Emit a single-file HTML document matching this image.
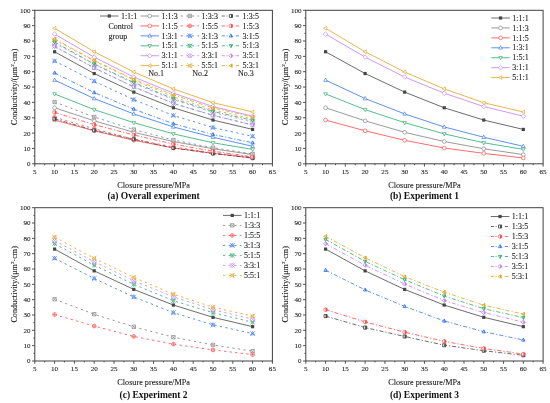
<!DOCTYPE html>
<html><head><meta charset="utf-8"><title>Conductivity vs closure pressure</title>
<style>
html,body{margin:0;padding:0;background:#fff}
svg{display:block;font-family:"Liberation Serif",serif}text{fill:#1c1c1c;stroke:#1c1c1c;stroke-width:.1px}
.tk{font-size:7.1px}.at{font-size:8.2px}.lg{font-size:8px}.cp{font-size:9.5px;font-weight:bold;fill:#111;stroke:none}
</style></head><body>
<svg width="550" height="403" viewBox="0 0 550 403">
<rect width="550" height="403" fill="#fff"/>
<polyline points="54.6,51.75 94.2,73.54 133.8,92.12 173.4,107.77 213,120.05 252.6,129.42" fill="none" stroke="#464646" stroke-width="0.8"/>
<rect x="53" y="50.15" width="3.2" height="3.2" fill="#464646"/>
<rect x="92.6" y="71.94" width="3.2" height="3.2" fill="#464646"/>
<rect x="132.2" y="90.52" width="3.2" height="3.2" fill="#464646"/>
<rect x="171.8" y="106.17" width="3.2" height="3.2" fill="#464646"/>
<rect x="211.4" y="118.45" width="3.2" height="3.2" fill="#464646"/>
<rect x="251" y="127.82" width="3.2" height="3.2" fill="#464646"/>
<polyline points="54.6,107.77 94.2,120.82 133.8,132.33 173.4,141.54 213,148.76 252.6,154.59" fill="none" stroke="#808080" stroke-width="0.8"/>
<circle cx="54.6" cy="107.77" r="1.87" fill="#fff" stroke="#808080" stroke-width="0.65"/>
<circle cx="94.2" cy="120.82" r="1.87" fill="#fff" stroke="#808080" stroke-width="0.65"/>
<circle cx="133.8" cy="132.33" r="1.87" fill="#fff" stroke="#808080" stroke-width="0.65"/>
<circle cx="173.4" cy="141.54" r="1.87" fill="#fff" stroke="#808080" stroke-width="0.65"/>
<circle cx="213" cy="148.76" r="1.87" fill="#fff" stroke="#808080" stroke-width="0.65"/>
<circle cx="252.6" cy="154.59" r="1.87" fill="#fff" stroke="#808080" stroke-width="0.65"/>
<polyline points="54.6,120.05 94.2,130.8 133.8,140.31 173.4,147.99 213,153.36 252.6,157.97" fill="none" stroke="#ff4545" stroke-width="0.8"/>
<circle cx="54.6" cy="120.05" r="1.87" fill="#fff" stroke="#ff4545" stroke-width="0.65"/>
<circle cx="94.2" cy="130.8" r="1.87" fill="#fff" stroke="#ff4545" stroke-width="0.65"/>
<circle cx="133.8" cy="140.31" r="1.87" fill="#fff" stroke="#ff4545" stroke-width="0.65"/>
<circle cx="173.4" cy="147.99" r="1.87" fill="#fff" stroke="#ff4545" stroke-width="0.65"/>
<circle cx="213" cy="153.36" r="1.87" fill="#fff" stroke="#ff4545" stroke-width="0.65"/>
<circle cx="252.6" cy="157.97" r="1.87" fill="#fff" stroke="#ff4545" stroke-width="0.65"/>
<polyline points="54.6,80.14 94.2,98.56 133.8,113.91 173.4,126.96 213,137.24 252.6,146.3" fill="none" stroke="#3575e6" stroke-width="0.8"/>
<polygon points="54.6,78.02 56.45,81.42 52.75,81.42" fill="#fff" stroke="#3575e6" stroke-width="0.65"/>
<polygon points="94.2,96.44 96.05,99.84 92.35,99.84" fill="#fff" stroke="#3575e6" stroke-width="0.65"/>
<polygon points="133.8,111.79 135.65,115.19 131.95,115.19" fill="#fff" stroke="#3575e6" stroke-width="0.65"/>
<polygon points="173.4,124.84 175.25,128.24 171.55,128.24" fill="#fff" stroke="#3575e6" stroke-width="0.65"/>
<polygon points="213,135.12 214.85,138.52 211.15,138.52" fill="#fff" stroke="#3575e6" stroke-width="0.65"/>
<polygon points="252.6,144.18 254.45,147.58 250.75,147.58" fill="#fff" stroke="#3575e6" stroke-width="0.65"/>
<polyline points="54.6,93.96 94.2,109.61 133.8,122.66 173.4,133.87 213,142.77 252.6,149.37" fill="none" stroke="#2cab6c" stroke-width="0.8"/>
<polygon points="54.6,96.08 56.45,92.68 52.75,92.68" fill="#fff" stroke="#2cab6c" stroke-width="0.65"/>
<polygon points="94.2,111.74 96.05,108.34 92.35,108.34" fill="#fff" stroke="#2cab6c" stroke-width="0.65"/>
<polygon points="133.8,124.79 135.65,121.39 131.95,121.39" fill="#fff" stroke="#2cab6c" stroke-width="0.65"/>
<polygon points="173.4,135.99 175.25,132.59 171.55,132.59" fill="#fff" stroke="#2cab6c" stroke-width="0.65"/>
<polygon points="213,144.9 214.85,141.5 211.15,141.5" fill="#fff" stroke="#2cab6c" stroke-width="0.65"/>
<polygon points="252.6,151.5 254.45,148.1 250.75,148.1" fill="#fff" stroke="#2cab6c" stroke-width="0.65"/>
<polyline points="54.6,34.09 94.2,57.12 133.8,77.07 173.4,93.19 213,106.54 252.6,116.22" fill="none" stroke="#c47ef2" stroke-width="0.8"/>
<polygon points="54.6,31.8 56.89,34.09 54.6,36.39 52.3,34.09" fill="#fff" stroke="#c47ef2" stroke-width="0.65"/>
<polygon points="94.2,54.82 96.49,57.12 94.2,59.41 91.9,57.12" fill="#fff" stroke="#c47ef2" stroke-width="0.65"/>
<polygon points="133.8,74.78 136.09,77.07 133.8,79.37 131.5,77.07" fill="#fff" stroke="#c47ef2" stroke-width="0.65"/>
<polygon points="173.4,90.9 175.69,93.19 173.4,95.49 171.1,93.19" fill="#fff" stroke="#c47ef2" stroke-width="0.65"/>
<polygon points="213,104.25 215.29,106.54 213,108.84 210.71,106.54" fill="#fff" stroke="#c47ef2" stroke-width="0.65"/>
<polygon points="252.6,113.92 254.89,116.22 252.6,118.51 250.3,116.22" fill="#fff" stroke="#c47ef2" stroke-width="0.65"/>
<polyline points="54.6,28.26 94.2,51.75 133.8,72.01 173.4,88.89 213,102.71 252.6,111.92" fill="none" stroke="#dfa322" stroke-width="0.8"/>
<polygon points="52.47,28.26 55.87,26.41 55.87,30.11" fill="#fff" stroke="#dfa322" stroke-width="0.65"/>
<polygon points="92.07,51.75 95.47,49.9 95.47,53.59" fill="#fff" stroke="#dfa322" stroke-width="0.65"/>
<polygon points="131.67,72.01 135.07,70.16 135.07,73.86" fill="#fff" stroke="#dfa322" stroke-width="0.65"/>
<polygon points="171.27,88.89 174.67,87.04 174.67,90.74" fill="#fff" stroke="#dfa322" stroke-width="0.65"/>
<polygon points="210.88,102.71 214.28,100.86 214.28,104.56" fill="#fff" stroke="#dfa322" stroke-width="0.65"/>
<polygon points="250.47,111.92 253.87,110.07 253.87,113.77" fill="#fff" stroke="#dfa322" stroke-width="0.65"/>
<polyline points="54.6,101.94 94.2,116.98 133.8,129.57 173.4,140.01 213,147.68 252.6,153.98" fill="none" stroke="#808080" stroke-width="0.8" stroke-dasharray="2.3 3.3"/>
<polygon points="52.9,100.24 56.3,100.24 56.3,103.64 52.9,103.64" fill="#fff" stroke="#808080" stroke-width="0.65"/><path d="M52.9 100.24L56.3 103.64M52.9 103.64L56.3 100.24" stroke="#808080" stroke-width="0.6" fill="none"/>
<polygon points="92.5,115.28 95.9,115.28 95.9,118.68 92.5,118.68" fill="#fff" stroke="#808080" stroke-width="0.65"/><path d="M92.5 115.28L95.9 118.68M92.5 118.68L95.9 115.28" stroke="#808080" stroke-width="0.6" fill="none"/>
<polygon points="132.1,127.87 135.5,127.87 135.5,131.27 132.1,131.27" fill="#fff" stroke="#808080" stroke-width="0.65"/><path d="M132.1 127.87L135.5 131.27M132.1 131.27L135.5 127.87" stroke="#808080" stroke-width="0.6" fill="none"/>
<polygon points="171.7,138.31 175.1,138.31 175.1,141.71 171.7,141.71" fill="#fff" stroke="#808080" stroke-width="0.65"/><path d="M171.7 138.31L175.1 141.71M171.7 141.71L175.1 138.31" stroke="#808080" stroke-width="0.6" fill="none"/>
<polygon points="211.3,145.98 214.7,145.98 214.7,149.38 211.3,149.38" fill="#fff" stroke="#808080" stroke-width="0.65"/><path d="M211.3 145.98L214.7 149.38M211.3 149.38L214.7 145.98" stroke="#808080" stroke-width="0.6" fill="none"/>
<polygon points="250.9,152.28 254.3,152.28 254.3,155.68 250.9,155.68" fill="#fff" stroke="#808080" stroke-width="0.65"/><path d="M250.9 152.28L254.3 155.68M250.9 155.68L254.3 152.28" stroke="#808080" stroke-width="0.6" fill="none"/>
<polyline points="54.6,117.29 94.2,128.8 133.8,139.24 173.4,146.92 213,152.75 252.6,157.35" fill="none" stroke="#ff4545" stroke-width="0.8" stroke-dasharray="2.3 3.3"/>
<circle cx="54.6" cy="117.29" r="1.87" fill="#fff" stroke="#ff4545" stroke-width="0.65"/><path d="M52.73 117.29H56.47M54.6 115.42V119.16" stroke="#ff4545" stroke-width="0.6" fill="none"/>
<circle cx="94.2" cy="128.8" r="1.87" fill="#fff" stroke="#ff4545" stroke-width="0.65"/><path d="M92.33 128.8H96.07M94.2 126.93V130.67" stroke="#ff4545" stroke-width="0.6" fill="none"/>
<circle cx="133.8" cy="139.24" r="1.87" fill="#fff" stroke="#ff4545" stroke-width="0.65"/><path d="M131.93 139.24H135.67M133.8 137.37V141.11" stroke="#ff4545" stroke-width="0.6" fill="none"/>
<circle cx="173.4" cy="146.92" r="1.87" fill="#fff" stroke="#ff4545" stroke-width="0.65"/><path d="M171.53 146.92H175.27M173.4 145.05V148.79" stroke="#ff4545" stroke-width="0.6" fill="none"/>
<circle cx="213" cy="152.75" r="1.87" fill="#fff" stroke="#ff4545" stroke-width="0.65"/><path d="M211.13 152.75H214.87M213 150.88V154.62" stroke="#ff4545" stroke-width="0.6" fill="none"/>
<circle cx="252.6" cy="157.35" r="1.87" fill="#fff" stroke="#ff4545" stroke-width="0.65"/><path d="M250.73 157.35H254.47M252.6 155.48V159.22" stroke="#ff4545" stroke-width="0.6" fill="none"/>
<polyline points="54.6,60.96 94.2,81.22 133.8,99.64 173.4,115.45 213,127.57 252.6,136.32" fill="none" stroke="#3575e6" stroke-width="0.8" stroke-dasharray="2.3 3.3"/>
<polygon points="54.6,58.83 56.45,62.23 52.75,62.23" fill="#fff" stroke="#3575e6" stroke-width="0.65"/><path d="M52.25 58.61L56.95 63.3M52.25 63.3L56.95 58.61" stroke="#3575e6" stroke-width="0.6" fill="none"/>
<polygon points="94.2,79.09 96.05,82.49 92.35,82.49" fill="#fff" stroke="#3575e6" stroke-width="0.65"/><path d="M91.85 78.87L96.55 83.56M91.85 83.56L96.55 78.87" stroke="#3575e6" stroke-width="0.6" fill="none"/>
<polygon points="133.8,97.51 135.65,100.91 131.95,100.91" fill="#fff" stroke="#3575e6" stroke-width="0.65"/><path d="M131.45 97.29L136.15 101.98M131.45 101.98L136.15 97.29" stroke="#3575e6" stroke-width="0.6" fill="none"/>
<polygon points="173.4,113.32 175.25,116.72 171.55,116.72" fill="#fff" stroke="#3575e6" stroke-width="0.65"/><path d="M171.05 113.1L175.75 117.79M171.05 117.79L175.75 113.1" stroke="#3575e6" stroke-width="0.6" fill="none"/>
<polygon points="213,125.45 214.85,128.85 211.15,128.85" fill="#fff" stroke="#3575e6" stroke-width="0.65"/><path d="M210.65 125.23L215.35 129.92M210.65 129.92L215.35 125.23" stroke="#3575e6" stroke-width="0.6" fill="none"/>
<polygon points="252.6,134.2 254.45,137.6 250.75,137.6" fill="#fff" stroke="#3575e6" stroke-width="0.65"/><path d="M250.25 133.98L254.95 138.67M250.25 138.67L254.95 133.98" stroke="#3575e6" stroke-width="0.6" fill="none"/>
<polyline points="54.6,46.37 94.2,67.86 133.8,87.05 173.4,103.47 213,115.45 252.6,124.96" fill="none" stroke="#2cab6c" stroke-width="0.8" stroke-dasharray="2.3 3.3"/>
<polygon points="54.6,48.5 56.45,45.1 52.75,45.1" fill="#fff" stroke="#2cab6c" stroke-width="0.65"/><path d="M52.25 44.03L56.95 48.72M52.25 48.72L56.95 44.03" stroke="#2cab6c" stroke-width="0.6" fill="none"/>
<polygon points="94.2,69.99 96.05,66.59 92.35,66.59" fill="#fff" stroke="#2cab6c" stroke-width="0.65"/><path d="M91.85 65.52L96.55 70.21M91.85 70.21L96.55 65.52" stroke="#2cab6c" stroke-width="0.6" fill="none"/>
<polygon points="133.8,89.18 135.65,85.78 131.95,85.78" fill="#fff" stroke="#2cab6c" stroke-width="0.65"/><path d="M131.45 84.7L136.15 89.4M131.45 89.4L136.15 84.7" stroke="#2cab6c" stroke-width="0.6" fill="none"/>
<polygon points="173.4,105.6 175.25,102.2 171.55,102.2" fill="#fff" stroke="#2cab6c" stroke-width="0.65"/><path d="M171.05 101.13L175.75 105.82M171.05 105.82L175.75 101.13" stroke="#2cab6c" stroke-width="0.6" fill="none"/>
<polygon points="213,117.57 214.85,114.17 211.15,114.17" fill="#fff" stroke="#2cab6c" stroke-width="0.65"/><path d="M210.65 113.1L215.35 117.79M210.65 117.79L215.35 113.1" stroke="#2cab6c" stroke-width="0.6" fill="none"/>
<polygon points="252.6,127.09 254.45,123.69 250.75,123.69" fill="#fff" stroke="#2cab6c" stroke-width="0.65"/><path d="M250.25 122.62L254.95 127.31M250.25 127.31L254.95 122.62" stroke="#2cab6c" stroke-width="0.6" fill="none"/>
<polyline points="54.6,43.3 94.2,64.33 133.8,83.52 173.4,99.64 213,112.38 252.6,121.89" fill="none" stroke="#c47ef2" stroke-width="0.8" stroke-dasharray="2.3 3.3"/>
<polygon points="54.6,41.01 56.89,43.3 54.6,45.6 52.3,43.3" fill="#fff" stroke="#c47ef2" stroke-width="0.65"/><path d="M52.25 40.96L56.95 45.65M52.25 45.65L56.95 40.96" stroke="#c47ef2" stroke-width="0.6" fill="none"/>
<polygon points="94.2,62.04 96.49,64.33 94.2,66.63 91.9,64.33" fill="#fff" stroke="#c47ef2" stroke-width="0.65"/><path d="M91.85 61.99L96.55 66.68M91.85 66.68L96.55 61.99" stroke="#c47ef2" stroke-width="0.6" fill="none"/>
<polygon points="133.8,81.22 136.09,83.52 133.8,85.81 131.5,83.52" fill="#fff" stroke="#c47ef2" stroke-width="0.65"/><path d="M131.45 81.17L136.15 85.87M131.45 85.87L136.15 81.17" stroke="#c47ef2" stroke-width="0.6" fill="none"/>
<polygon points="173.4,97.34 175.69,99.64 173.4,101.93 171.1,99.64" fill="#fff" stroke="#c47ef2" stroke-width="0.65"/><path d="M171.05 97.29L175.75 101.98M171.05 101.98L175.75 97.29" stroke="#c47ef2" stroke-width="0.6" fill="none"/>
<polygon points="213,110.08 215.29,112.38 213,114.67 210.71,112.38" fill="#fff" stroke="#c47ef2" stroke-width="0.65"/><path d="M210.65 110.03L215.35 114.72M210.65 114.72L215.35 110.03" stroke="#c47ef2" stroke-width="0.6" fill="none"/>
<polygon points="252.6,119.6 254.89,121.89 252.6,124.19 250.3,121.89" fill="#fff" stroke="#c47ef2" stroke-width="0.65"/><path d="M250.25 119.55L254.95 124.24M250.25 124.24L254.95 119.55" stroke="#c47ef2" stroke-width="0.6" fill="none"/>
<polyline points="54.6,39.77 94.2,60.96 133.8,80.14 173.4,96.87 213,109.92 252.6,118.82" fill="none" stroke="#dfa322" stroke-width="0.8" stroke-dasharray="2.3 3.3"/>
<polygon points="52.47,39.77 55.87,37.92 55.87,41.62" fill="#fff" stroke="#dfa322" stroke-width="0.65"/><path d="M52.25 37.43L56.95 42.12M52.25 42.12L56.95 37.43" stroke="#dfa322" stroke-width="0.6" fill="none"/>
<polygon points="92.07,60.96 95.47,59.11 95.47,62.8" fill="#fff" stroke="#dfa322" stroke-width="0.65"/><path d="M91.85 58.61L96.55 63.3M91.85 63.3L96.55 58.61" stroke="#dfa322" stroke-width="0.6" fill="none"/>
<polygon points="131.67,80.14 135.07,78.29 135.07,81.99" fill="#fff" stroke="#dfa322" stroke-width="0.65"/><path d="M131.45 77.8L136.15 82.49M131.45 82.49L136.15 77.8" stroke="#dfa322" stroke-width="0.6" fill="none"/>
<polygon points="171.27,96.87 174.67,95.03 174.67,98.72" fill="#fff" stroke="#dfa322" stroke-width="0.65"/><path d="M171.05 94.53L175.75 99.22M171.05 99.22L175.75 94.53" stroke="#dfa322" stroke-width="0.6" fill="none"/>
<polygon points="210.88,109.92 214.28,108.07 214.28,111.77" fill="#fff" stroke="#dfa322" stroke-width="0.65"/><path d="M210.65 107.58L215.35 112.27M210.65 112.27L215.35 107.58" stroke="#dfa322" stroke-width="0.6" fill="none"/>
<polygon points="250.47,118.82 253.87,116.98 253.87,120.67" fill="#fff" stroke="#dfa322" stroke-width="0.65"/><path d="M250.25 116.48L254.95 121.17M250.25 121.17L254.95 116.48" stroke="#dfa322" stroke-width="0.6" fill="none"/>
<polyline points="54.6,118.82 94.2,130.34 133.8,139.24 173.4,147.99 213,153.52 252.6,158.12" fill="none" stroke="#464646" stroke-width="0.8" stroke-dasharray="4.1 2 1.2 2"/>
<polygon points="53.05,117.27 56.15,117.27 56.15,120.37 53.05,120.37" fill="#fff" stroke="#464646" stroke-width="0.85"/><clipPath id="c92"><rect x="54.6" y="114.82" width="4" height="8"/></clipPath><polygon points="53.05,117.27 56.15,117.27 56.15,120.37 53.05,120.37" fill="#464646" clip-path="url(#c92)"/>
<polygon points="92.65,128.79 95.75,128.79 95.75,131.89 92.65,131.89" fill="#fff" stroke="#464646" stroke-width="0.85"/><clipPath id="c93"><rect x="94.2" y="126.34" width="4" height="8"/></clipPath><polygon points="92.65,128.79 95.75,128.79 95.75,131.89 92.65,131.89" fill="#464646" clip-path="url(#c93)"/>
<polygon points="132.25,137.69 135.35,137.69 135.35,140.79 132.25,140.79" fill="#fff" stroke="#464646" stroke-width="0.85"/><clipPath id="c94"><rect x="133.8" y="135.24" width="4" height="8"/></clipPath><polygon points="132.25,137.69 135.35,137.69 135.35,140.79 132.25,140.79" fill="#464646" clip-path="url(#c94)"/>
<polygon points="171.85,146.44 174.95,146.44 174.95,149.54 171.85,149.54" fill="#fff" stroke="#464646" stroke-width="0.85"/><clipPath id="c95"><rect x="173.4" y="143.99" width="4" height="8"/></clipPath><polygon points="171.85,146.44 174.95,146.44 174.95,149.54 171.85,149.54" fill="#464646" clip-path="url(#c95)"/>
<polygon points="211.45,151.97 214.55,151.97 214.55,155.07 211.45,155.07" fill="#fff" stroke="#464646" stroke-width="0.85"/><clipPath id="c96"><rect x="213" y="149.52" width="4" height="8"/></clipPath><polygon points="211.45,151.97 214.55,151.97 214.55,155.07 211.45,155.07" fill="#464646" clip-path="url(#c96)"/>
<polygon points="251.05,156.57 254.15,156.57 254.15,159.67 251.05,159.67" fill="#fff" stroke="#464646" stroke-width="0.85"/><clipPath id="c97"><rect x="252.6" y="154.12" width="4" height="8"/></clipPath><polygon points="251.05,156.57 254.15,156.57 254.15,159.67 251.05,159.67" fill="#464646" clip-path="url(#c97)"/>
<polyline points="54.6,112.38 94.2,124.66 133.8,134.94 173.4,144.15 213,151.21 252.6,156.89" fill="none" stroke="#ff4545" stroke-width="0.8" stroke-dasharray="4.1 2 1.2 2"/>
<circle cx="54.6" cy="112.38" r="1.87" fill="#fff" stroke="#ff4545" stroke-width="0.65"/><path d="M54.6 110.51A1.87 1.87 0 0 1 54.6 114.25Z" fill="#ff4545"/>
<circle cx="94.2" cy="124.66" r="1.87" fill="#fff" stroke="#ff4545" stroke-width="0.65"/><path d="M94.2 122.79A1.87 1.87 0 0 1 94.2 126.53Z" fill="#ff4545"/>
<circle cx="133.8" cy="134.94" r="1.87" fill="#fff" stroke="#ff4545" stroke-width="0.65"/><path d="M133.8 133.07A1.87 1.87 0 0 1 133.8 136.81Z" fill="#ff4545"/>
<circle cx="173.4" cy="144.15" r="1.87" fill="#fff" stroke="#ff4545" stroke-width="0.65"/><path d="M173.4 142.28A1.87 1.87 0 0 1 173.4 146.02Z" fill="#ff4545"/>
<circle cx="213" cy="151.21" r="1.87" fill="#fff" stroke="#ff4545" stroke-width="0.65"/><path d="M213 149.34A1.87 1.87 0 0 1 213 153.08Z" fill="#ff4545"/>
<circle cx="252.6" cy="156.89" r="1.87" fill="#fff" stroke="#ff4545" stroke-width="0.65"/><path d="M252.6 155.02A1.87 1.87 0 0 1 252.6 158.76Z" fill="#ff4545"/>
<polyline points="54.6,72.93 94.2,92.58 133.8,109.15 173.4,123.74 213,134.48 252.6,142.77" fill="none" stroke="#3575e6" stroke-width="0.8" stroke-dasharray="4.1 2 1.2 2"/>
<polygon points="54.6,70.99 56.29,74.09 52.91,74.09" fill="#fff" stroke="#3575e6" stroke-width="0.85"/><clipPath id="c106"><rect x="54.6" y="68.93" width="4" height="8"/></clipPath><polygon points="54.6,70.99 56.29,74.09 52.91,74.09" fill="#3575e6" clip-path="url(#c106)"/>
<polygon points="94.2,90.64 95.89,93.74 92.51,93.74" fill="#fff" stroke="#3575e6" stroke-width="0.85"/><clipPath id="c107"><rect x="94.2" y="88.58" width="4" height="8"/></clipPath><polygon points="94.2,90.64 95.89,93.74 92.51,93.74" fill="#3575e6" clip-path="url(#c107)"/>
<polygon points="133.8,107.22 135.49,110.32 132.11,110.32" fill="#fff" stroke="#3575e6" stroke-width="0.85"/><clipPath id="c108"><rect x="133.8" y="105.15" width="4" height="8"/></clipPath><polygon points="133.8,107.22 135.49,110.32 132.11,110.32" fill="#3575e6" clip-path="url(#c108)"/>
<polygon points="173.4,121.8 175.09,124.9 171.71,124.9" fill="#fff" stroke="#3575e6" stroke-width="0.85"/><clipPath id="c109"><rect x="173.4" y="119.74" width="4" height="8"/></clipPath><polygon points="173.4,121.8 175.09,124.9 171.71,124.9" fill="#3575e6" clip-path="url(#c109)"/>
<polygon points="213,132.54 214.69,135.64 211.31,135.64" fill="#fff" stroke="#3575e6" stroke-width="0.85"/><clipPath id="c110"><rect x="213" y="130.48" width="4" height="8"/></clipPath><polygon points="213,132.54 214.69,135.64 211.31,135.64" fill="#3575e6" clip-path="url(#c110)"/>
<polygon points="252.6,140.83 254.29,143.93 250.91,143.93" fill="#fff" stroke="#3575e6" stroke-width="0.85"/><clipPath id="c111"><rect x="252.6" y="138.77" width="4" height="8"/></clipPath><polygon points="252.6,140.83 254.29,143.93 250.91,143.93" fill="#3575e6" clip-path="url(#c111)"/>
<polyline points="54.6,42.07 94.2,64.03 133.8,82.45 173.4,98.72 213,111.46 252.6,120.36" fill="none" stroke="#2cab6c" stroke-width="0.8" stroke-dasharray="4.1 2 1.2 2"/>
<polygon points="54.6,44.01 56.29,40.91 52.91,40.91" fill="#fff" stroke="#2cab6c" stroke-width="0.85"/><clipPath id="c113"><rect x="54.6" y="38.07" width="4" height="8"/></clipPath><polygon points="54.6,44.01 56.29,40.91 52.91,40.91" fill="#2cab6c" clip-path="url(#c113)"/>
<polygon points="94.2,65.96 95.89,62.86 92.51,62.86" fill="#fff" stroke="#2cab6c" stroke-width="0.85"/><clipPath id="c114"><rect x="94.2" y="60.03" width="4" height="8"/></clipPath><polygon points="94.2,65.96 95.89,62.86 92.51,62.86" fill="#2cab6c" clip-path="url(#c114)"/>
<polygon points="133.8,84.38 135.49,81.28 132.11,81.28" fill="#fff" stroke="#2cab6c" stroke-width="0.85"/><clipPath id="c115"><rect x="133.8" y="78.45" width="4" height="8"/></clipPath><polygon points="133.8,84.38 135.49,81.28 132.11,81.28" fill="#2cab6c" clip-path="url(#c115)"/>
<polygon points="173.4,100.65 175.09,97.55 171.71,97.55" fill="#fff" stroke="#2cab6c" stroke-width="0.85"/><clipPath id="c116"><rect x="173.4" y="94.72" width="4" height="8"/></clipPath><polygon points="173.4,100.65 175.09,97.55 171.71,97.55" fill="#2cab6c" clip-path="url(#c116)"/>
<polygon points="213,113.39 214.69,110.29 211.31,110.29" fill="#fff" stroke="#2cab6c" stroke-width="0.85"/><clipPath id="c117"><rect x="213" y="107.46" width="4" height="8"/></clipPath><polygon points="213,113.39 214.69,110.29 211.31,110.29" fill="#2cab6c" clip-path="url(#c117)"/>
<polygon points="252.6,122.3 254.29,119.2 250.91,119.2" fill="#fff" stroke="#2cab6c" stroke-width="0.85"/><clipPath id="c118"><rect x="252.6" y="116.36" width="4" height="8"/></clipPath><polygon points="252.6,122.3 254.29,119.2 250.91,119.2" fill="#2cab6c" clip-path="url(#c118)"/>
<polyline points="54.6,46.37 94.2,67.86 133.8,86.74 173.4,103.32 213,115.29 252.6,124.96" fill="none" stroke="#c47ef2" stroke-width="0.8" stroke-dasharray="4.1 2 1.2 2"/>
<polygon points="54.6,44.28 56.69,46.37 54.6,48.47 52.51,46.37" fill="#fff" stroke="#c47ef2" stroke-width="0.85"/><clipPath id="c120"><rect x="54.6" y="42.37" width="4" height="8"/></clipPath><polygon points="54.6,44.28 56.69,46.37 54.6,48.47 52.51,46.37" fill="#c47ef2" clip-path="url(#c120)"/>
<polygon points="94.2,65.77 96.29,67.86 94.2,69.96 92.11,67.86" fill="#fff" stroke="#c47ef2" stroke-width="0.85"/><clipPath id="c121"><rect x="94.2" y="63.86" width="4" height="8"/></clipPath><polygon points="94.2,65.77 96.29,67.86 94.2,69.96 92.11,67.86" fill="#c47ef2" clip-path="url(#c121)"/>
<polygon points="133.8,84.65 135.89,86.74 133.8,88.84 131.71,86.74" fill="#fff" stroke="#c47ef2" stroke-width="0.85"/><clipPath id="c122"><rect x="133.8" y="82.74" width="4" height="8"/></clipPath><polygon points="133.8,84.65 135.89,86.74 133.8,88.84 131.71,86.74" fill="#c47ef2" clip-path="url(#c122)"/>
<polygon points="173.4,101.23 175.49,103.32 173.4,105.41 171.31,103.32" fill="#fff" stroke="#c47ef2" stroke-width="0.85"/><clipPath id="c123"><rect x="173.4" y="99.32" width="4" height="8"/></clipPath><polygon points="173.4,101.23 175.49,103.32 173.4,105.41 171.31,103.32" fill="#c47ef2" clip-path="url(#c123)"/>
<polygon points="213,113.2 215.09,115.29 213,117.39 210.91,115.29" fill="#fff" stroke="#c47ef2" stroke-width="0.85"/><clipPath id="c124"><rect x="213" y="111.29" width="4" height="8"/></clipPath><polygon points="213,113.2 215.09,115.29 213,117.39 210.91,115.29" fill="#c47ef2" clip-path="url(#c124)"/>
<polygon points="252.6,122.87 254.69,124.96 252.6,127.06 250.51,124.96" fill="#fff" stroke="#c47ef2" stroke-width="0.85"/><clipPath id="c125"><rect x="252.6" y="120.96" width="4" height="8"/></clipPath><polygon points="252.6,122.87 254.69,124.96 252.6,127.06 250.51,124.96" fill="#c47ef2" clip-path="url(#c125)"/>
<polyline points="54.6,39 94.2,60.34 133.8,79.38 173.4,94.88 213,107.93 252.6,116.83" fill="none" stroke="#dfa322" stroke-width="0.8" stroke-dasharray="4.1 2 1.2 2"/>
<polygon points="52.66,39 55.76,37.32 55.76,40.69" fill="#fff" stroke="#dfa322" stroke-width="0.85"/><clipPath id="c127"><rect x="54.6" y="35" width="4" height="8"/></clipPath><polygon points="52.66,39 55.76,37.32 55.76,40.69" fill="#dfa322" clip-path="url(#c127)"/>
<polygon points="92.26,60.34 95.36,58.66 95.36,62.03" fill="#fff" stroke="#dfa322" stroke-width="0.85"/><clipPath id="c128"><rect x="94.2" y="56.34" width="4" height="8"/></clipPath><polygon points="92.26,60.34 95.36,58.66 95.36,62.03" fill="#dfa322" clip-path="url(#c128)"/>
<polygon points="131.86,79.38 134.96,77.69 134.96,81.06" fill="#fff" stroke="#dfa322" stroke-width="0.85"/><clipPath id="c129"><rect x="133.8" y="75.38" width="4" height="8"/></clipPath><polygon points="131.86,79.38 134.96,77.69 134.96,81.06" fill="#dfa322" clip-path="url(#c129)"/>
<polygon points="171.46,94.88 174.56,93.19 174.56,96.56" fill="#fff" stroke="#dfa322" stroke-width="0.85"/><clipPath id="c130"><rect x="173.4" y="90.88" width="4" height="8"/></clipPath><polygon points="171.46,94.88 174.56,93.19 174.56,96.56" fill="#dfa322" clip-path="url(#c130)"/>
<polygon points="211.06,107.93 214.16,106.24 214.16,109.61" fill="#fff" stroke="#dfa322" stroke-width="0.85"/><clipPath id="c131"><rect x="213" y="103.93" width="4" height="8"/></clipPath><polygon points="211.06,107.93 214.16,106.24 214.16,109.61" fill="#dfa322" clip-path="url(#c131)"/>
<polygon points="250.66,116.83 253.76,115.14 253.76,118.51" fill="#fff" stroke="#dfa322" stroke-width="0.85"/><clipPath id="c132"><rect x="252.6" y="112.83" width="4" height="8"/></clipPath><polygon points="250.66,116.83 253.76,115.14 253.76,118.51" fill="#dfa322" clip-path="url(#c132)"/>
<rect x="34.8" y="10.3" width="237.6" height="153.5" fill="none" stroke="#404040" stroke-width="1"/>
<path d="M34.8 163.8v2.8M44.7 163.8v1.4M54.6 163.8v2.8M64.5 163.8v1.4M74.4 163.8v2.8M84.3 163.8v1.4M94.2 163.8v2.8M104.1 163.8v1.4M114 163.8v2.8M123.9 163.8v1.4M133.8 163.8v2.8M143.7 163.8v1.4M153.6 163.8v2.8M163.5 163.8v1.4M173.4 163.8v2.8M183.3 163.8v1.4M193.2 163.8v2.8M203.1 163.8v1.4M213 163.8v2.8M222.9 163.8v1.4M232.8 163.8v2.8M242.7 163.8v1.4M252.6 163.8v2.8M262.5 163.8v1.4M272.4 163.8v2.8M34.8 163.8h-2.8M34.8 156.12h-1.4M34.8 148.45h-2.8M34.8 140.78h-1.4M34.8 133.1h-2.8M34.8 125.43h-1.4M34.8 117.75h-2.8M34.8 110.08h-1.4M34.8 102.4h-2.8M34.8 94.73h-1.4M34.8 87.05h-2.8M34.8 79.38h-1.4M34.8 71.7h-2.8M34.8 64.03h-1.4M34.8 56.35h-2.8M34.8 48.68h-1.4M34.8 41h-2.8M34.8 33.33h-1.4M34.8 25.65h-2.8M34.8 17.98h-1.4M34.8 10.3h-2.8" stroke="#404040" stroke-width="0.9" fill="none"/>
<g class="tk"><text x="34.8" y="173.9" text-anchor="middle">5</text><text x="54.6" y="173.9" text-anchor="middle">10</text><text x="74.4" y="173.9" text-anchor="middle">15</text><text x="94.2" y="173.9" text-anchor="middle">20</text><text x="114" y="173.9" text-anchor="middle">25</text><text x="133.8" y="173.9" text-anchor="middle">30</text><text x="153.6" y="173.9" text-anchor="middle">35</text><text x="173.4" y="173.9" text-anchor="middle">40</text><text x="193.2" y="173.9" text-anchor="middle">45</text><text x="213" y="173.9" text-anchor="middle">50</text><text x="232.8" y="173.9" text-anchor="middle">55</text><text x="252.6" y="173.9" text-anchor="middle">60</text><text x="272.4" y="173.9" text-anchor="middle">65</text><text x="30.6" y="166.2" text-anchor="end">0</text><text x="30.6" y="150.85" text-anchor="end">10</text><text x="30.6" y="135.5" text-anchor="end">20</text><text x="30.6" y="120.15" text-anchor="end">30</text><text x="30.6" y="104.8" text-anchor="end">40</text><text x="30.6" y="89.45" text-anchor="end">50</text><text x="30.6" y="74.1" text-anchor="end">60</text><text x="30.6" y="58.75" text-anchor="end">70</text><text x="30.6" y="43.4" text-anchor="end">80</text><text x="30.6" y="28.05" text-anchor="end">90</text><text x="30.6" y="12.7" text-anchor="end">100</text></g>
<text class="at" x="153.6" y="187.5" text-anchor="middle">Closure pressure/MPa</text>
<text class="at" transform="translate(16.6 87.05) rotate(-90)" text-anchor="middle">Conductivity/(μm<tspan dy="-3" font-size="5">2</tspan><tspan dy="3">·cm)</tspan></text>
<text class="cp" x="153.6" y="199.4" text-anchor="middle">(a) Overall experiment</text>
<path d="M100 16h18.5" stroke="#464646" stroke-width="0.8"/>
<rect x="107.65" y="14.4" width="3.2" height="3.2" fill="#464646"/>
<text class="lg" x="120.9" y="18.7">1:1:1</text>
<path d="M140.5 16h18.5" stroke="#808080" stroke-width="0.8"/>
<circle cx="149.75" cy="16" r="1.87" fill="#fff" stroke="#808080" stroke-width="0.65"/>
<text class="lg" x="161.4" y="18.7">1:1:3</text>
<path d="M140.5 25.93h18.5" stroke="#ff4545" stroke-width="0.8"/>
<circle cx="149.75" cy="25.93" r="1.87" fill="#fff" stroke="#ff4545" stroke-width="0.65"/>
<text class="lg" x="161.4" y="28.63">1:1:5</text>
<path d="M140.5 35.86h18.5" stroke="#3575e6" stroke-width="0.8"/>
<polygon points="149.75,33.73 151.6,37.13 147.9,37.13" fill="#fff" stroke="#3575e6" stroke-width="0.65"/>
<text class="lg" x="161.4" y="38.56">1:3:1</text>
<path d="M140.5 45.79h18.5" stroke="#2cab6c" stroke-width="0.8"/>
<polygon points="149.75,47.91 151.6,44.52 147.9,44.52" fill="#fff" stroke="#2cab6c" stroke-width="0.65"/>
<text class="lg" x="161.4" y="48.49">1:5:1</text>
<path d="M140.5 55.72h18.5" stroke="#c47ef2" stroke-width="0.8"/>
<polygon points="149.75,53.42 152.04,55.72 149.75,58.02 147.46,55.72" fill="#fff" stroke="#c47ef2" stroke-width="0.65"/>
<text class="lg" x="161.4" y="58.42">3:1:1</text>
<path d="M140.5 65.65h18.5" stroke="#dfa322" stroke-width="0.8"/>
<polygon points="147.62,65.65 151.03,63.8 151.03,67.5" fill="#fff" stroke="#dfa322" stroke-width="0.65"/>
<text class="lg" x="161.4" y="68.35">5:1:1</text>
<path d="M180.6 16h18.5" stroke="#808080" stroke-width="0.8" stroke-dasharray="2.3 3.3"/>
<polygon points="188.15,14.3 191.55,14.3 191.55,17.7 188.15,17.7" fill="#fff" stroke="#808080" stroke-width="0.65"/><path d="M188.15 14.3L191.55 17.7M188.15 17.7L191.55 14.3" stroke="#808080" stroke-width="0.6" fill="none"/>
<text class="lg" x="201.5" y="18.7">1:3:3</text>
<path d="M180.6 25.93h18.5" stroke="#ff4545" stroke-width="0.8" stroke-dasharray="2.3 3.3"/>
<circle cx="189.85" cy="25.93" r="1.87" fill="#fff" stroke="#ff4545" stroke-width="0.65"/><path d="M187.98 25.93H191.72M189.85 24.06V27.8" stroke="#ff4545" stroke-width="0.6" fill="none"/>
<text class="lg" x="201.5" y="28.63">1:5:5</text>
<path d="M180.6 35.86h18.5" stroke="#3575e6" stroke-width="0.8" stroke-dasharray="2.3 3.3"/>
<polygon points="189.85,33.73 191.7,37.13 188,37.13" fill="#fff" stroke="#3575e6" stroke-width="0.65"/><path d="M187.5 33.51L192.2 38.21M187.5 38.21L192.2 33.51" stroke="#3575e6" stroke-width="0.6" fill="none"/>
<text class="lg" x="201.5" y="38.56">3:1:3</text>
<path d="M180.6 45.79h18.5" stroke="#2cab6c" stroke-width="0.8" stroke-dasharray="2.3 3.3"/>
<polygon points="189.85,47.91 191.7,44.52 188,44.52" fill="#fff" stroke="#2cab6c" stroke-width="0.65"/><path d="M187.5 43.44L192.2 48.14M187.5 48.14L192.2 43.44" stroke="#2cab6c" stroke-width="0.6" fill="none"/>
<text class="lg" x="201.5" y="48.49">5:1:5</text>
<path d="M180.6 55.72h18.5" stroke="#c47ef2" stroke-width="0.8" stroke-dasharray="2.3 3.3"/>
<polygon points="189.85,53.42 192.14,55.72 189.85,58.02 187.56,55.72" fill="#fff" stroke="#c47ef2" stroke-width="0.65"/><path d="M187.5 53.37L192.2 58.07M187.5 58.07L192.2 53.37" stroke="#c47ef2" stroke-width="0.6" fill="none"/>
<text class="lg" x="201.5" y="58.42">3:3:1</text>
<path d="M180.6 65.65h18.5" stroke="#dfa322" stroke-width="0.8" stroke-dasharray="2.3 3.3"/>
<polygon points="187.72,65.65 191.12,63.8 191.12,67.5" fill="#fff" stroke="#dfa322" stroke-width="0.65"/><path d="M187.5 63.3L192.2 68M187.5 68L192.2 63.3" stroke="#dfa322" stroke-width="0.6" fill="none"/>
<text class="lg" x="201.5" y="68.35">5:5:1</text>
<path d="M221.7 16h3.2m1.6 0h1m8.2 0h3.3" stroke="#464646" stroke-width="0.8"/>
<polygon points="229.4,14.45 232.5,14.45 232.5,17.55 229.4,17.55" fill="#fff" stroke="#464646" stroke-width="0.85"/><clipPath id="c179"><rect x="230.95" y="12" width="4" height="8"/></clipPath><polygon points="229.4,14.45 232.5,14.45 232.5,17.55 229.4,17.55" fill="#464646" clip-path="url(#c179)"/>
<text class="lg" x="242.6" y="18.7">1:3:5</text>
<path d="M221.7 25.93h3.2m1.6 0h1m8.2 0h3.3" stroke="#ff4545" stroke-width="0.8"/>
<circle cx="230.95" cy="25.93" r="1.87" fill="#fff" stroke="#ff4545" stroke-width="0.65"/><path d="M230.95 24.06A1.87 1.87 0 0 1 230.95 27.8Z" fill="#ff4545"/>
<text class="lg" x="242.6" y="28.63">1:5:3</text>
<path d="M221.7 35.86h3.2m1.6 0h1m8.2 0h3.3" stroke="#3575e6" stroke-width="0.8"/>
<polygon points="230.95,33.92 232.64,37.02 229.26,37.02" fill="#fff" stroke="#3575e6" stroke-width="0.85"/><clipPath id="c185"><rect x="230.95" y="31.86" width="4" height="8"/></clipPath><polygon points="230.95,33.92 232.64,37.02 229.26,37.02" fill="#3575e6" clip-path="url(#c185)"/>
<text class="lg" x="242.6" y="38.56">3:1:5</text>
<path d="M221.7 45.79h3.2m1.6 0h1m8.2 0h3.3" stroke="#2cab6c" stroke-width="0.8"/>
<polygon points="230.95,47.73 232.64,44.63 229.26,44.63" fill="#fff" stroke="#2cab6c" stroke-width="0.85"/><clipPath id="c188"><rect x="230.95" y="41.79" width="4" height="8"/></clipPath><polygon points="230.95,47.73 232.64,44.63 229.26,44.63" fill="#2cab6c" clip-path="url(#c188)"/>
<text class="lg" x="242.6" y="48.49">5:1:3</text>
<path d="M221.7 55.72h3.2m1.6 0h1m8.2 0h3.3" stroke="#c47ef2" stroke-width="0.8"/>
<polygon points="230.95,53.63 233.04,55.72 230.95,57.81 228.86,55.72" fill="#fff" stroke="#c47ef2" stroke-width="0.85"/><clipPath id="c191"><rect x="230.95" y="51.72" width="4" height="8"/></clipPath><polygon points="230.95,53.63 233.04,55.72 230.95,57.81 228.86,55.72" fill="#c47ef2" clip-path="url(#c191)"/>
<text class="lg" x="242.6" y="58.42">3:5:1</text>
<path d="M221.7 65.65h3.2m1.6 0h1m8.2 0h3.3" stroke="#dfa322" stroke-width="0.8"/>
<polygon points="229.01,65.65 232.11,63.96 232.11,67.34" fill="#fff" stroke="#dfa322" stroke-width="0.85"/><clipPath id="c194"><rect x="230.95" y="61.65" width="4" height="8"/></clipPath><polygon points="229.01,65.65 232.11,63.96 232.11,67.34" fill="#dfa322" clip-path="url(#c194)"/>
<text class="lg" x="242.6" y="68.35">5:3:1</text>
<text class="lg" x="108.5" y="28.5">Control</text><text class="lg" x="108.5" y="38.5">group</text>
<text class="lg" x="148.3" y="76.3">No.1</text><text class="lg" x="192.3" y="76.3">No.2</text><text class="lg" x="238" y="76.3">No.3</text>
<polyline points="325.57,51.75 365.12,73.54 404.68,92.12 444.23,107.77 483.77,120.05 523.33,129.42" fill="none" stroke="#464646" stroke-width="0.8"/>
<rect x="323.97" y="50.15" width="3.2" height="3.2" fill="#464646"/>
<rect x="363.52" y="71.94" width="3.2" height="3.2" fill="#464646"/>
<rect x="403.07" y="90.52" width="3.2" height="3.2" fill="#464646"/>
<rect x="442.62" y="106.17" width="3.2" height="3.2" fill="#464646"/>
<rect x="482.17" y="118.45" width="3.2" height="3.2" fill="#464646"/>
<rect x="521.73" y="127.82" width="3.2" height="3.2" fill="#464646"/>
<polyline points="325.57,107.77 365.12,120.82 404.68,132.33 444.23,141.54 483.77,148.76 523.33,154.59" fill="none" stroke="#808080" stroke-width="0.8"/>
<circle cx="325.57" cy="107.77" r="1.87" fill="#fff" stroke="#808080" stroke-width="0.65"/>
<circle cx="365.12" cy="120.82" r="1.87" fill="#fff" stroke="#808080" stroke-width="0.65"/>
<circle cx="404.68" cy="132.33" r="1.87" fill="#fff" stroke="#808080" stroke-width="0.65"/>
<circle cx="444.23" cy="141.54" r="1.87" fill="#fff" stroke="#808080" stroke-width="0.65"/>
<circle cx="483.77" cy="148.76" r="1.87" fill="#fff" stroke="#808080" stroke-width="0.65"/>
<circle cx="523.33" cy="154.59" r="1.87" fill="#fff" stroke="#808080" stroke-width="0.65"/>
<polyline points="325.57,120.05 365.12,130.8 404.68,140.31 444.23,147.99 483.77,153.36 523.33,157.97" fill="none" stroke="#ff4545" stroke-width="0.8"/>
<circle cx="325.57" cy="120.05" r="1.87" fill="#fff" stroke="#ff4545" stroke-width="0.65"/>
<circle cx="365.12" cy="130.8" r="1.87" fill="#fff" stroke="#ff4545" stroke-width="0.65"/>
<circle cx="404.68" cy="140.31" r="1.87" fill="#fff" stroke="#ff4545" stroke-width="0.65"/>
<circle cx="444.23" cy="147.99" r="1.87" fill="#fff" stroke="#ff4545" stroke-width="0.65"/>
<circle cx="483.77" cy="153.36" r="1.87" fill="#fff" stroke="#ff4545" stroke-width="0.65"/>
<circle cx="523.33" cy="157.97" r="1.87" fill="#fff" stroke="#ff4545" stroke-width="0.65"/>
<polyline points="325.57,80.14 365.12,98.56 404.68,113.91 444.23,126.96 483.77,137.24 523.33,146.3" fill="none" stroke="#3575e6" stroke-width="0.8"/>
<polygon points="325.57,78.02 327.42,81.42 323.73,81.42" fill="#fff" stroke="#3575e6" stroke-width="0.65"/>
<polygon points="365.12,96.44 366.97,99.84 363.28,99.84" fill="#fff" stroke="#3575e6" stroke-width="0.65"/>
<polygon points="404.68,111.79 406.52,115.19 402.83,115.19" fill="#fff" stroke="#3575e6" stroke-width="0.65"/>
<polygon points="444.23,124.84 446.07,128.24 442.38,128.24" fill="#fff" stroke="#3575e6" stroke-width="0.65"/>
<polygon points="483.77,135.12 485.62,138.52 481.93,138.52" fill="#fff" stroke="#3575e6" stroke-width="0.65"/>
<polygon points="523.33,144.18 525.17,147.58 521.48,147.58" fill="#fff" stroke="#3575e6" stroke-width="0.65"/>
<polyline points="325.57,93.96 365.12,109.61 404.68,122.66 444.23,133.87 483.77,142.77 523.33,149.37" fill="none" stroke="#2cab6c" stroke-width="0.8"/>
<polygon points="325.57,96.08 327.42,92.68 323.73,92.68" fill="#fff" stroke="#2cab6c" stroke-width="0.65"/>
<polygon points="365.12,111.74 366.97,108.34 363.28,108.34" fill="#fff" stroke="#2cab6c" stroke-width="0.65"/>
<polygon points="404.68,124.79 406.52,121.39 402.83,121.39" fill="#fff" stroke="#2cab6c" stroke-width="0.65"/>
<polygon points="444.23,135.99 446.07,132.59 442.38,132.59" fill="#fff" stroke="#2cab6c" stroke-width="0.65"/>
<polygon points="483.77,144.9 485.62,141.5 481.93,141.5" fill="#fff" stroke="#2cab6c" stroke-width="0.65"/>
<polygon points="523.33,151.5 525.17,148.1 521.48,148.1" fill="#fff" stroke="#2cab6c" stroke-width="0.65"/>
<polyline points="325.57,34.09 365.12,57.12 404.68,77.07 444.23,93.19 483.77,106.54 523.33,116.22" fill="none" stroke="#c47ef2" stroke-width="0.8"/>
<polygon points="325.57,31.8 327.87,34.09 325.57,36.39 323.28,34.09" fill="#fff" stroke="#c47ef2" stroke-width="0.65"/>
<polygon points="365.12,54.82 367.42,57.12 365.12,59.41 362.83,57.12" fill="#fff" stroke="#c47ef2" stroke-width="0.65"/>
<polygon points="404.68,74.78 406.97,77.07 404.68,79.37 402.38,77.07" fill="#fff" stroke="#c47ef2" stroke-width="0.65"/>
<polygon points="444.23,90.9 446.52,93.19 444.23,95.49 441.93,93.19" fill="#fff" stroke="#c47ef2" stroke-width="0.65"/>
<polygon points="483.77,104.25 486.07,106.54 483.77,108.84 481.48,106.54" fill="#fff" stroke="#c47ef2" stroke-width="0.65"/>
<polygon points="523.33,113.92 525.62,116.22 523.33,118.51 521.03,116.22" fill="#fff" stroke="#c47ef2" stroke-width="0.65"/>
<polyline points="325.57,28.26 365.12,51.75 404.68,72.01 444.23,88.89 483.77,102.71 523.33,111.92" fill="none" stroke="#dfa322" stroke-width="0.8"/>
<polygon points="323.45,28.26 326.85,26.41 326.85,30.11" fill="#fff" stroke="#dfa322" stroke-width="0.65"/>
<polygon points="363,51.75 366.4,49.9 366.4,53.59" fill="#fff" stroke="#dfa322" stroke-width="0.65"/>
<polygon points="402.55,72.01 405.95,70.16 405.95,73.86" fill="#fff" stroke="#dfa322" stroke-width="0.65"/>
<polygon points="442.1,88.89 445.5,87.04 445.5,90.74" fill="#fff" stroke="#dfa322" stroke-width="0.65"/>
<polygon points="481.65,102.71 485.05,100.86 485.05,104.56" fill="#fff" stroke="#dfa322" stroke-width="0.65"/>
<polygon points="521.2,111.92 524.6,110.07 524.6,113.77" fill="#fff" stroke="#dfa322" stroke-width="0.65"/>
<rect x="305.8" y="10.3" width="237.3" height="153.5" fill="none" stroke="#404040" stroke-width="1"/>
<path d="M305.8 163.8v2.8M315.69 163.8v1.4M325.57 163.8v2.8M335.46 163.8v1.4M345.35 163.8v2.8M355.24 163.8v1.4M365.12 163.8v2.8M375.01 163.8v1.4M384.9 163.8v2.8M394.79 163.8v1.4M404.68 163.8v2.8M414.56 163.8v1.4M424.45 163.8v2.8M434.34 163.8v1.4M444.23 163.8v2.8M454.11 163.8v1.4M464 163.8v2.8M473.89 163.8v1.4M483.77 163.8v2.8M493.66 163.8v1.4M503.55 163.8v2.8M513.44 163.8v1.4M523.33 163.8v2.8M533.21 163.8v1.4M543.1 163.8v2.8M305.8 163.8h-2.8M305.8 156.12h-1.4M305.8 148.45h-2.8M305.8 140.78h-1.4M305.8 133.1h-2.8M305.8 125.43h-1.4M305.8 117.75h-2.8M305.8 110.08h-1.4M305.8 102.4h-2.8M305.8 94.73h-1.4M305.8 87.05h-2.8M305.8 79.38h-1.4M305.8 71.7h-2.8M305.8 64.03h-1.4M305.8 56.35h-2.8M305.8 48.68h-1.4M305.8 41h-2.8M305.8 33.33h-1.4M305.8 25.65h-2.8M305.8 17.98h-1.4M305.8 10.3h-2.8" stroke="#404040" stroke-width="0.9" fill="none"/>
<g class="tk"><text x="305.8" y="173.9" text-anchor="middle">5</text><text x="325.57" y="173.9" text-anchor="middle">10</text><text x="345.35" y="173.9" text-anchor="middle">15</text><text x="365.12" y="173.9" text-anchor="middle">20</text><text x="384.9" y="173.9" text-anchor="middle">25</text><text x="404.68" y="173.9" text-anchor="middle">30</text><text x="424.45" y="173.9" text-anchor="middle">35</text><text x="444.23" y="173.9" text-anchor="middle">40</text><text x="464" y="173.9" text-anchor="middle">45</text><text x="483.77" y="173.9" text-anchor="middle">50</text><text x="503.55" y="173.9" text-anchor="middle">55</text><text x="523.33" y="173.9" text-anchor="middle">60</text><text x="543.1" y="173.9" text-anchor="middle">65</text><text x="301.6" y="166.2" text-anchor="end">0</text><text x="301.6" y="150.85" text-anchor="end">10</text><text x="301.6" y="135.5" text-anchor="end">20</text><text x="301.6" y="120.15" text-anchor="end">30</text><text x="301.6" y="104.8" text-anchor="end">40</text><text x="301.6" y="89.45" text-anchor="end">50</text><text x="301.6" y="74.1" text-anchor="end">60</text><text x="301.6" y="58.75" text-anchor="end">70</text><text x="301.6" y="43.4" text-anchor="end">80</text><text x="301.6" y="28.05" text-anchor="end">90</text><text x="301.6" y="12.7" text-anchor="end">100</text></g>
<text class="at" x="424.45" y="187.5" text-anchor="middle">Closure pressure/MPa</text>
<text class="at" transform="translate(287.6 87.05) rotate(-90)" text-anchor="middle">Conductivity/(μm<tspan dy="-3" font-size="5">2</tspan><tspan dy="3">·cm)</tspan></text>
<text class="cp" x="424.45" y="199.4" text-anchor="middle">(b) Experiment 1</text>
<path d="M491.3 18h18.5" stroke="#464646" stroke-width="0.8"/>
<rect x="498.95" y="16.4" width="3.2" height="3.2" fill="#464646"/>
<text class="lg" x="512.2" y="20.7">1:1:1</text>
<path d="M491.3 27.93h18.5" stroke="#808080" stroke-width="0.8"/>
<circle cx="500.55" cy="27.93" r="1.87" fill="#fff" stroke="#808080" stroke-width="0.65"/>
<text class="lg" x="512.2" y="30.63">1:1:3</text>
<path d="M491.3 37.86h18.5" stroke="#ff4545" stroke-width="0.8"/>
<circle cx="500.55" cy="37.86" r="1.87" fill="#fff" stroke="#ff4545" stroke-width="0.65"/>
<text class="lg" x="512.2" y="40.56">1:1:5</text>
<path d="M491.3 47.79h18.5" stroke="#3575e6" stroke-width="0.8"/>
<polygon points="500.55,45.66 502.4,49.06 498.7,49.06" fill="#fff" stroke="#3575e6" stroke-width="0.65"/>
<text class="lg" x="512.2" y="50.49">1:3:1</text>
<path d="M491.3 57.72h18.5" stroke="#2cab6c" stroke-width="0.8"/>
<polygon points="500.55,59.84 502.4,56.45 498.7,56.45" fill="#fff" stroke="#2cab6c" stroke-width="0.65"/>
<text class="lg" x="512.2" y="60.42">1:5:1</text>
<path d="M491.3 67.65h18.5" stroke="#c47ef2" stroke-width="0.8"/>
<polygon points="500.55,65.36 502.85,67.65 500.55,69.95 498.25,67.65" fill="#fff" stroke="#c47ef2" stroke-width="0.65"/>
<text class="lg" x="512.2" y="70.35">3:1:1</text>
<path d="M491.3 77.58h18.5" stroke="#dfa322" stroke-width="0.8"/>
<polygon points="498.43,77.58 501.82,75.73 501.82,79.43" fill="#fff" stroke="#dfa322" stroke-width="0.65"/>
<text class="lg" x="512.2" y="80.28">5:1:1</text>
<polyline points="54.6,249.09 94.2,270.86 133.8,289.41 173.4,305.05 213,317.31 252.6,326.66" fill="none" stroke="#464646" stroke-width="0.8"/>
<rect x="53" y="247.49" width="3.2" height="3.2" fill="#464646"/>
<rect x="92.6" y="269.26" width="3.2" height="3.2" fill="#464646"/>
<rect x="132.2" y="287.81" width="3.2" height="3.2" fill="#464646"/>
<rect x="171.8" y="303.45" width="3.2" height="3.2" fill="#464646"/>
<rect x="211.4" y="315.71" width="3.2" height="3.2" fill="#464646"/>
<rect x="251" y="325.06" width="3.2" height="3.2" fill="#464646"/>
<polyline points="54.6,299.22 94.2,314.24 133.8,326.81 173.4,337.24 213,344.9 252.6,351.19" fill="none" stroke="#808080" stroke-width="0.8" stroke-dasharray="2.3 3.3"/>
<polygon points="52.9,297.52 56.3,297.52 56.3,300.92 52.9,300.92" fill="#fff" stroke="#808080" stroke-width="0.65"/><path d="M52.9 297.52L56.3 300.92M52.9 300.92L56.3 297.52" stroke="#808080" stroke-width="0.6" fill="none"/>
<polygon points="92.5,312.54 95.9,312.54 95.9,315.94 92.5,315.94" fill="#fff" stroke="#808080" stroke-width="0.65"/><path d="M92.5 312.54L95.9 315.94M92.5 315.94L95.9 312.54" stroke="#808080" stroke-width="0.6" fill="none"/>
<polygon points="132.1,325.11 135.5,325.11 135.5,328.51 132.1,328.51" fill="#fff" stroke="#808080" stroke-width="0.65"/><path d="M132.1 325.11L135.5 328.51M132.1 328.51L135.5 325.11" stroke="#808080" stroke-width="0.6" fill="none"/>
<polygon points="171.7,335.54 175.1,335.54 175.1,338.94 171.7,338.94" fill="#fff" stroke="#808080" stroke-width="0.65"/><path d="M171.7 335.54L175.1 338.94M171.7 338.94L175.1 335.54" stroke="#808080" stroke-width="0.6" fill="none"/>
<polygon points="211.3,343.2 214.7,343.2 214.7,346.6 211.3,346.6" fill="#fff" stroke="#808080" stroke-width="0.65"/><path d="M211.3 343.2L214.7 346.6M211.3 346.6L214.7 343.2" stroke="#808080" stroke-width="0.6" fill="none"/>
<polygon points="250.9,349.49 254.3,349.49 254.3,352.89 250.9,352.89" fill="#fff" stroke="#808080" stroke-width="0.65"/><path d="M250.9 349.49L254.3 352.89M250.9 352.89L254.3 349.49" stroke="#808080" stroke-width="0.6" fill="none"/>
<polyline points="54.6,314.55 94.2,326.05 133.8,336.47 173.4,344.14 213,349.96 252.6,354.56" fill="none" stroke="#ff4545" stroke-width="0.8" stroke-dasharray="2.3 3.3"/>
<circle cx="54.6" cy="314.55" r="1.87" fill="#fff" stroke="#ff4545" stroke-width="0.65"/><path d="M52.73 314.55H56.47M54.6 312.68V316.42" stroke="#ff4545" stroke-width="0.6" fill="none"/>
<circle cx="94.2" cy="326.05" r="1.87" fill="#fff" stroke="#ff4545" stroke-width="0.65"/><path d="M92.33 326.05H96.07M94.2 324.18V327.92" stroke="#ff4545" stroke-width="0.6" fill="none"/>
<circle cx="133.8" cy="336.47" r="1.87" fill="#fff" stroke="#ff4545" stroke-width="0.65"/><path d="M131.93 336.47H135.67M133.8 334.6V338.34" stroke="#ff4545" stroke-width="0.6" fill="none"/>
<circle cx="173.4" cy="344.14" r="1.87" fill="#fff" stroke="#ff4545" stroke-width="0.65"/><path d="M171.53 344.14H175.27M173.4 342.27V346.01" stroke="#ff4545" stroke-width="0.6" fill="none"/>
<circle cx="213" cy="349.96" r="1.87" fill="#fff" stroke="#ff4545" stroke-width="0.65"/><path d="M211.13 349.96H214.87M213 348.09V351.83" stroke="#ff4545" stroke-width="0.6" fill="none"/>
<circle cx="252.6" cy="354.56" r="1.87" fill="#fff" stroke="#ff4545" stroke-width="0.65"/><path d="M250.73 354.56H254.47M252.6 352.69V356.43" stroke="#ff4545" stroke-width="0.6" fill="none"/>
<polyline points="54.6,258.29 94.2,278.52 133.8,296.92 173.4,312.71 213,324.82 252.6,333.56" fill="none" stroke="#3575e6" stroke-width="0.8" stroke-dasharray="2.3 3.3"/>
<polygon points="54.6,256.16 56.45,259.56 52.75,259.56" fill="#fff" stroke="#3575e6" stroke-width="0.65"/><path d="M52.25 255.94L56.95 260.63M52.25 260.63L56.95 255.94" stroke="#3575e6" stroke-width="0.6" fill="none"/>
<polygon points="94.2,276.4 96.05,279.8 92.35,279.8" fill="#fff" stroke="#3575e6" stroke-width="0.65"/><path d="M91.85 276.18L96.55 280.87M91.85 280.87L96.55 276.18" stroke="#3575e6" stroke-width="0.6" fill="none"/>
<polygon points="133.8,294.8 135.65,298.2 131.95,298.2" fill="#fff" stroke="#3575e6" stroke-width="0.65"/><path d="M131.45 294.57L136.15 299.27M131.45 299.27L136.15 294.57" stroke="#3575e6" stroke-width="0.6" fill="none"/>
<polygon points="173.4,310.59 175.25,313.99 171.55,313.99" fill="#fff" stroke="#3575e6" stroke-width="0.65"/><path d="M171.05 310.36L175.75 315.06M171.05 315.06L175.75 310.36" stroke="#3575e6" stroke-width="0.6" fill="none"/>
<polygon points="213,322.7 214.85,326.1 211.15,326.1" fill="#fff" stroke="#3575e6" stroke-width="0.65"/><path d="M210.65 322.48L215.35 327.17M210.65 327.17L215.35 322.48" stroke="#3575e6" stroke-width="0.6" fill="none"/>
<polygon points="252.6,331.43 254.45,334.83 250.75,334.83" fill="#fff" stroke="#3575e6" stroke-width="0.65"/><path d="M250.25 331.21L254.95 335.91M250.25 335.91L254.95 331.21" stroke="#3575e6" stroke-width="0.6" fill="none"/>
<polyline points="54.6,243.73 94.2,265.19 133.8,284.35 173.4,300.75 213,312.71 252.6,322.22" fill="none" stroke="#2cab6c" stroke-width="0.8" stroke-dasharray="2.3 3.3"/>
<polygon points="54.6,245.85 56.45,242.45 52.75,242.45" fill="#fff" stroke="#2cab6c" stroke-width="0.65"/><path d="M52.25 241.38L56.95 246.07M52.25 246.07L56.95 241.38" stroke="#2cab6c" stroke-width="0.6" fill="none"/>
<polygon points="94.2,267.31 96.05,263.91 92.35,263.91" fill="#fff" stroke="#2cab6c" stroke-width="0.65"/><path d="M91.85 262.84L96.55 267.53M91.85 267.53L96.55 262.84" stroke="#2cab6c" stroke-width="0.6" fill="none"/>
<polygon points="133.8,286.48 135.65,283.08 131.95,283.08" fill="#fff" stroke="#2cab6c" stroke-width="0.65"/><path d="M131.45 282L136.15 286.7M131.45 286.7L136.15 282" stroke="#2cab6c" stroke-width="0.6" fill="none"/>
<polygon points="173.4,302.88 175.25,299.48 171.55,299.48" fill="#fff" stroke="#2cab6c" stroke-width="0.65"/><path d="M171.05 298.41L175.75 303.1M171.05 303.1L175.75 298.41" stroke="#2cab6c" stroke-width="0.6" fill="none"/>
<polygon points="213,314.84 214.85,311.44 211.15,311.44" fill="#fff" stroke="#2cab6c" stroke-width="0.65"/><path d="M210.65 310.36L215.35 315.06M210.65 315.06L215.35 310.36" stroke="#2cab6c" stroke-width="0.6" fill="none"/>
<polygon points="252.6,324.34 254.45,320.94 250.75,320.94" fill="#fff" stroke="#2cab6c" stroke-width="0.65"/><path d="M250.25 319.87L254.95 324.56M250.25 324.56L254.95 319.87" stroke="#2cab6c" stroke-width="0.6" fill="none"/>
<polyline points="54.6,240.66 94.2,261.66 133.8,280.82 173.4,296.92 213,309.64 252.6,319.15" fill="none" stroke="#c47ef2" stroke-width="0.8" stroke-dasharray="2.3 3.3"/>
<polygon points="54.6,238.36 56.89,240.66 54.6,242.95 52.3,240.66" fill="#fff" stroke="#c47ef2" stroke-width="0.65"/><path d="M52.25 238.31L56.95 243.01M52.25 243.01L56.95 238.31" stroke="#c47ef2" stroke-width="0.6" fill="none"/>
<polygon points="94.2,259.37 96.49,261.66 94.2,263.96 91.9,261.66" fill="#fff" stroke="#c47ef2" stroke-width="0.65"/><path d="M91.85 259.32L96.55 264.01M91.85 264.01L96.55 259.32" stroke="#c47ef2" stroke-width="0.6" fill="none"/>
<polygon points="133.8,278.53 136.09,280.82 133.8,283.12 131.5,280.82" fill="#fff" stroke="#c47ef2" stroke-width="0.65"/><path d="M131.45 278.48L136.15 283.17M131.45 283.17L136.15 278.48" stroke="#c47ef2" stroke-width="0.6" fill="none"/>
<polygon points="173.4,294.63 175.69,296.92 173.4,299.22 171.1,296.92" fill="#fff" stroke="#c47ef2" stroke-width="0.65"/><path d="M171.05 294.57L175.75 299.27M171.05 299.27L175.75 294.57" stroke="#c47ef2" stroke-width="0.6" fill="none"/>
<polygon points="213,307.35 215.29,309.64 213,311.94 210.71,309.64" fill="#fff" stroke="#c47ef2" stroke-width="0.65"/><path d="M210.65 307.3L215.35 311.99M210.65 311.99L215.35 307.3" stroke="#c47ef2" stroke-width="0.6" fill="none"/>
<polygon points="252.6,316.85 254.89,319.15 252.6,321.44 250.3,319.15" fill="#fff" stroke="#c47ef2" stroke-width="0.65"/><path d="M250.25 316.8L254.95 321.5M250.25 321.5L254.95 316.8" stroke="#c47ef2" stroke-width="0.6" fill="none"/>
<polyline points="54.6,237.13 94.2,258.29 133.8,277.45 173.4,294.16 213,307.19 252.6,316.08" fill="none" stroke="#dfa322" stroke-width="0.8" stroke-dasharray="2.3 3.3"/>
<polygon points="52.47,237.13 55.87,235.28 55.87,238.98" fill="#fff" stroke="#dfa322" stroke-width="0.65"/><path d="M52.25 234.79L56.95 239.48M52.25 239.48L56.95 234.79" stroke="#dfa322" stroke-width="0.6" fill="none"/>
<polygon points="92.07,258.29 95.47,256.44 95.47,260.14" fill="#fff" stroke="#dfa322" stroke-width="0.65"/><path d="M91.85 255.94L96.55 260.63M91.85 260.63L96.55 255.94" stroke="#dfa322" stroke-width="0.6" fill="none"/>
<polygon points="131.67,277.45 135.07,275.6 135.07,279.3" fill="#fff" stroke="#dfa322" stroke-width="0.65"/><path d="M131.45 275.11L136.15 279.8M131.45 279.8L136.15 275.11" stroke="#dfa322" stroke-width="0.6" fill="none"/>
<polygon points="171.27,294.16 174.67,292.31 174.67,296.01" fill="#fff" stroke="#dfa322" stroke-width="0.65"/><path d="M171.05 291.82L175.75 296.51M171.05 296.51L175.75 291.82" stroke="#dfa322" stroke-width="0.6" fill="none"/>
<polygon points="210.88,307.19 214.28,305.34 214.28,309.04" fill="#fff" stroke="#dfa322" stroke-width="0.65"/><path d="M210.65 304.85L215.35 309.54M210.65 309.54L215.35 304.85" stroke="#dfa322" stroke-width="0.6" fill="none"/>
<polygon points="250.47,316.08 253.87,314.23 253.87,317.93" fill="#fff" stroke="#dfa322" stroke-width="0.65"/><path d="M250.25 313.74L254.95 318.43M250.25 318.43L254.95 313.74" stroke="#dfa322" stroke-width="0.6" fill="none"/>
<rect x="34.8" y="207.7" width="237.6" height="153.3" fill="none" stroke="#404040" stroke-width="1"/>
<path d="M34.8 361v2.8M44.7 361v1.4M54.6 361v2.8M64.5 361v1.4M74.4 361v2.8M84.3 361v1.4M94.2 361v2.8M104.1 361v1.4M114 361v2.8M123.9 361v1.4M133.8 361v2.8M143.7 361v1.4M153.6 361v2.8M163.5 361v1.4M173.4 361v2.8M183.3 361v1.4M193.2 361v2.8M203.1 361v1.4M213 361v2.8M222.9 361v1.4M232.8 361v2.8M242.7 361v1.4M252.6 361v2.8M262.5 361v1.4M272.4 361v2.8M34.8 361h-2.8M34.8 353.33h-1.4M34.8 345.67h-2.8M34.8 338h-1.4M34.8 330.34h-2.8M34.8 322.68h-1.4M34.8 315.01h-2.8M34.8 307.34h-1.4M34.8 299.68h-2.8M34.8 292.01h-1.4M34.8 284.35h-2.8M34.8 276.69h-1.4M34.8 269.02h-2.8M34.8 261.36h-1.4M34.8 253.69h-2.8M34.8 246.02h-1.4M34.8 238.36h-2.8M34.8 230.69h-1.4M34.8 223.03h-2.8M34.8 215.36h-1.4M34.8 207.7h-2.8" stroke="#404040" stroke-width="0.9" fill="none"/>
<g class="tk"><text x="34.8" y="371.4" text-anchor="middle">5</text><text x="54.6" y="371.4" text-anchor="middle">10</text><text x="74.4" y="371.4" text-anchor="middle">15</text><text x="94.2" y="371.4" text-anchor="middle">20</text><text x="114" y="371.4" text-anchor="middle">25</text><text x="133.8" y="371.4" text-anchor="middle">30</text><text x="153.6" y="371.4" text-anchor="middle">35</text><text x="173.4" y="371.4" text-anchor="middle">40</text><text x="193.2" y="371.4" text-anchor="middle">45</text><text x="213" y="371.4" text-anchor="middle">50</text><text x="232.8" y="371.4" text-anchor="middle">55</text><text x="252.6" y="371.4" text-anchor="middle">60</text><text x="272.4" y="371.4" text-anchor="middle">65</text><text x="30.6" y="363.4" text-anchor="end">0</text><text x="30.6" y="348.07" text-anchor="end">10</text><text x="30.6" y="332.74" text-anchor="end">20</text><text x="30.6" y="317.41" text-anchor="end">30</text><text x="30.6" y="302.08" text-anchor="end">40</text><text x="30.6" y="286.75" text-anchor="end">50</text><text x="30.6" y="271.42" text-anchor="end">60</text><text x="30.6" y="256.09" text-anchor="end">70</text><text x="30.6" y="240.76" text-anchor="end">80</text><text x="30.6" y="225.43" text-anchor="end">90</text><text x="30.6" y="210.1" text-anchor="end">100</text></g>
<text class="at" x="153.6" y="385.3" text-anchor="middle">Closure pressure/MPa</text>
<text class="at" transform="translate(16.6 284.35) rotate(-90)" text-anchor="middle">Conductivity/(μm<tspan dy="-3" font-size="5">2</tspan><tspan dy="3">·cm)</tspan></text>
<text class="cp" x="153.6" y="397.6" text-anchor="middle">(c) Experiment 2</text>
<path d="M223 215.4h18.5" stroke="#464646" stroke-width="0.8"/>
<rect x="230.65" y="213.8" width="3.2" height="3.2" fill="#464646"/>
<text class="lg" x="243.9" y="218.1">1:1:1</text>
<path d="M223 225.4h18.5" stroke="#808080" stroke-width="0.8" stroke-dasharray="2.3 3.3"/>
<polygon points="230.55,223.7 233.95,223.7 233.95,227.1 230.55,227.1" fill="#fff" stroke="#808080" stroke-width="0.65"/><path d="M230.55 223.7L233.95 227.1M230.55 227.1L233.95 223.7" stroke="#808080" stroke-width="0.6" fill="none"/>
<text class="lg" x="243.9" y="228.1">1:3:3</text>
<path d="M223 235.4h18.5" stroke="#ff4545" stroke-width="0.8" stroke-dasharray="2.3 3.3"/>
<circle cx="232.25" cy="235.4" r="1.87" fill="#fff" stroke="#ff4545" stroke-width="0.65"/><path d="M230.38 235.4H234.12M232.25 233.53V237.27" stroke="#ff4545" stroke-width="0.6" fill="none"/>
<text class="lg" x="243.9" y="238.1">1:5:5</text>
<path d="M223 245.4h18.5" stroke="#3575e6" stroke-width="0.8" stroke-dasharray="2.3 3.3"/>
<polygon points="232.25,243.28 234.1,246.68 230.4,246.68" fill="#fff" stroke="#3575e6" stroke-width="0.65"/><path d="M229.9 243.05L234.6 247.75M229.9 247.75L234.6 243.05" stroke="#3575e6" stroke-width="0.6" fill="none"/>
<text class="lg" x="243.9" y="248.1">3:1:3</text>
<path d="M223 255.4h18.5" stroke="#2cab6c" stroke-width="0.8" stroke-dasharray="2.3 3.3"/>
<polygon points="232.25,257.52 234.1,254.12 230.4,254.12" fill="#fff" stroke="#2cab6c" stroke-width="0.65"/><path d="M229.9 253.05L234.6 257.75M229.9 257.75L234.6 253.05" stroke="#2cab6c" stroke-width="0.6" fill="none"/>
<text class="lg" x="243.9" y="258.1">5:1:5</text>
<path d="M223 265.4h18.5" stroke="#c47ef2" stroke-width="0.8" stroke-dasharray="2.3 3.3"/>
<polygon points="232.25,263.1 234.54,265.4 232.25,267.69 229.96,265.4" fill="#fff" stroke="#c47ef2" stroke-width="0.65"/><path d="M229.9 263.05L234.6 267.75M229.9 267.75L234.6 263.05" stroke="#c47ef2" stroke-width="0.6" fill="none"/>
<text class="lg" x="243.9" y="268.1">3:3:1</text>
<path d="M223 275.4h18.5" stroke="#dfa322" stroke-width="0.8" stroke-dasharray="2.3 3.3"/>
<polygon points="230.12,275.4 233.53,273.55 233.53,277.25" fill="#fff" stroke="#dfa322" stroke-width="0.65"/><path d="M229.9 273.05L234.6 277.75M229.9 277.75L234.6 273.05" stroke="#dfa322" stroke-width="0.6" fill="none"/>
<text class="lg" x="243.9" y="278.1">5:5:1</text>
<polyline points="325.57,249.09 365.12,270.86 404.68,289.41 444.23,305.05 483.77,317.31 523.33,326.66" fill="none" stroke="#464646" stroke-width="0.8"/>
<rect x="323.97" y="247.49" width="3.2" height="3.2" fill="#464646"/>
<rect x="363.52" y="269.26" width="3.2" height="3.2" fill="#464646"/>
<rect x="403.07" y="287.81" width="3.2" height="3.2" fill="#464646"/>
<rect x="442.62" y="303.45" width="3.2" height="3.2" fill="#464646"/>
<rect x="482.17" y="315.71" width="3.2" height="3.2" fill="#464646"/>
<rect x="521.73" y="325.06" width="3.2" height="3.2" fill="#464646"/>
<polyline points="325.57,316.08 365.12,327.58 404.68,336.47 444.23,345.21 483.77,350.73 523.33,355.33" fill="none" stroke="#464646" stroke-width="0.8" stroke-dasharray="4.1 2 1.2 2"/>
<polygon points="324.02,314.53 327.12,314.53 327.12,317.63 324.02,317.63" fill="#fff" stroke="#464646" stroke-width="0.85"/><clipPath id="c358"><rect x="325.57" y="312.08" width="4" height="8"/></clipPath><polygon points="324.02,314.53 327.12,314.53 327.12,317.63 324.02,317.63" fill="#464646" clip-path="url(#c358)"/>
<polygon points="363.57,326.03 366.68,326.03 366.68,329.13 363.57,329.13" fill="#fff" stroke="#464646" stroke-width="0.85"/><clipPath id="c359"><rect x="365.12" y="323.58" width="4" height="8"/></clipPath><polygon points="363.57,326.03 366.68,326.03 366.68,329.13 363.57,329.13" fill="#464646" clip-path="url(#c359)"/>
<polygon points="403.12,334.92 406.23,334.92 406.23,338.02 403.12,338.02" fill="#fff" stroke="#464646" stroke-width="0.85"/><clipPath id="c360"><rect x="404.68" y="332.47" width="4" height="8"/></clipPath><polygon points="403.12,334.92 406.23,334.92 406.23,338.02 403.12,338.02" fill="#464646" clip-path="url(#c360)"/>
<polygon points="442.68,343.66 445.78,343.66 445.78,346.76 442.68,346.76" fill="#fff" stroke="#464646" stroke-width="0.85"/><clipPath id="c361"><rect x="444.23" y="341.21" width="4" height="8"/></clipPath><polygon points="442.68,343.66 445.78,343.66 445.78,346.76 442.68,346.76" fill="#464646" clip-path="url(#c361)"/>
<polygon points="482.22,349.18 485.32,349.18 485.32,352.28 482.22,352.28" fill="#fff" stroke="#464646" stroke-width="0.85"/><clipPath id="c362"><rect x="483.77" y="346.73" width="4" height="8"/></clipPath><polygon points="482.22,349.18 485.32,349.18 485.32,352.28 482.22,352.28" fill="#464646" clip-path="url(#c362)"/>
<polygon points="521.78,353.78 524.88,353.78 524.88,356.88 521.78,356.88" fill="#fff" stroke="#464646" stroke-width="0.85"/><clipPath id="c363"><rect x="523.33" y="351.33" width="4" height="8"/></clipPath><polygon points="521.78,353.78 524.88,353.78 524.88,356.88 521.78,356.88" fill="#464646" clip-path="url(#c363)"/>
<polyline points="325.57,309.64 365.12,321.91 404.68,332.18 444.23,341.38 483.77,348.43 523.33,354.1" fill="none" stroke="#ff4545" stroke-width="0.8" stroke-dasharray="4.1 2 1.2 2"/>
<circle cx="325.57" cy="309.64" r="1.87" fill="#fff" stroke="#ff4545" stroke-width="0.65"/><path d="M325.57 307.77A1.87 1.87 0 0 1 325.57 311.51Z" fill="#ff4545"/>
<circle cx="365.12" cy="321.91" r="1.87" fill="#fff" stroke="#ff4545" stroke-width="0.65"/><path d="M365.12 320.04A1.87 1.87 0 0 1 365.12 323.78Z" fill="#ff4545"/>
<circle cx="404.68" cy="332.18" r="1.87" fill="#fff" stroke="#ff4545" stroke-width="0.65"/><path d="M404.68 330.31A1.87 1.87 0 0 1 404.68 334.05Z" fill="#ff4545"/>
<circle cx="444.23" cy="341.38" r="1.87" fill="#fff" stroke="#ff4545" stroke-width="0.65"/><path d="M444.23 339.51A1.87 1.87 0 0 1 444.23 343.25Z" fill="#ff4545"/>
<circle cx="483.77" cy="348.43" r="1.87" fill="#fff" stroke="#ff4545" stroke-width="0.65"/><path d="M483.77 346.56A1.87 1.87 0 0 1 483.77 350.3Z" fill="#ff4545"/>
<circle cx="523.33" cy="354.1" r="1.87" fill="#fff" stroke="#ff4545" stroke-width="0.65"/><path d="M523.33 352.23A1.87 1.87 0 0 1 523.33 355.97Z" fill="#ff4545"/>
<polyline points="325.57,270.25 365.12,289.87 404.68,306.43 444.23,320.99 483.77,331.72 523.33,340" fill="none" stroke="#3575e6" stroke-width="0.8" stroke-dasharray="4.1 2 1.2 2"/>
<polygon points="325.57,268.31 327.26,271.41 323.89,271.41" fill="#fff" stroke="#3575e6" stroke-width="0.85"/><clipPath id="c372"><rect x="325.57" y="266.25" width="4" height="8"/></clipPath><polygon points="325.57,268.31 327.26,271.41 323.89,271.41" fill="#3575e6" clip-path="url(#c372)"/>
<polygon points="365.12,287.93 366.81,291.03 363.44,291.03" fill="#fff" stroke="#3575e6" stroke-width="0.85"/><clipPath id="c373"><rect x="365.12" y="285.87" width="4" height="8"/></clipPath><polygon points="365.12,287.93 366.81,291.03 363.44,291.03" fill="#3575e6" clip-path="url(#c373)"/>
<polygon points="404.68,304.49 406.36,307.59 402.99,307.59" fill="#fff" stroke="#3575e6" stroke-width="0.85"/><clipPath id="c374"><rect x="404.68" y="302.43" width="4" height="8"/></clipPath><polygon points="404.68,304.49 406.36,307.59 402.99,307.59" fill="#3575e6" clip-path="url(#c374)"/>
<polygon points="444.23,319.05 445.91,322.15 442.54,322.15" fill="#fff" stroke="#3575e6" stroke-width="0.85"/><clipPath id="c375"><rect x="444.23" y="316.99" width="4" height="8"/></clipPath><polygon points="444.23,319.05 445.91,322.15 442.54,322.15" fill="#3575e6" clip-path="url(#c375)"/>
<polygon points="483.77,329.78 485.46,332.88 482.09,332.88" fill="#fff" stroke="#3575e6" stroke-width="0.85"/><clipPath id="c376"><rect x="483.77" y="327.72" width="4" height="8"/></clipPath><polygon points="483.77,329.78 485.46,332.88 482.09,332.88" fill="#3575e6" clip-path="url(#c376)"/>
<polygon points="523.33,338.06 525.01,341.16 521.64,341.16" fill="#fff" stroke="#3575e6" stroke-width="0.85"/><clipPath id="c377"><rect x="523.33" y="336" width="4" height="8"/></clipPath><polygon points="523.33,338.06 525.01,341.16 521.64,341.16" fill="#3575e6" clip-path="url(#c377)"/>
<polyline points="325.57,239.43 365.12,261.36 404.68,279.75 444.23,296 483.77,308.72 523.33,317.62" fill="none" stroke="#2cab6c" stroke-width="0.8" stroke-dasharray="4.1 2 1.2 2"/>
<polygon points="325.57,241.37 327.26,238.27 323.89,238.27" fill="#fff" stroke="#2cab6c" stroke-width="0.85"/><clipPath id="c379"><rect x="325.57" y="235.43" width="4" height="8"/></clipPath><polygon points="325.57,241.37 327.26,238.27 323.89,238.27" fill="#2cab6c" clip-path="url(#c379)"/>
<polygon points="365.12,263.29 366.81,260.19 363.44,260.19" fill="#fff" stroke="#2cab6c" stroke-width="0.85"/><clipPath id="c380"><rect x="365.12" y="257.36" width="4" height="8"/></clipPath><polygon points="365.12,263.29 366.81,260.19 363.44,260.19" fill="#2cab6c" clip-path="url(#c380)"/>
<polygon points="404.68,281.69 406.36,278.59 402.99,278.59" fill="#fff" stroke="#2cab6c" stroke-width="0.85"/><clipPath id="c381"><rect x="404.68" y="275.75" width="4" height="8"/></clipPath><polygon points="404.68,281.69 406.36,278.59 402.99,278.59" fill="#2cab6c" clip-path="url(#c381)"/>
<polygon points="444.23,297.94 445.91,294.84 442.54,294.84" fill="#fff" stroke="#2cab6c" stroke-width="0.85"/><clipPath id="c382"><rect x="444.23" y="292" width="4" height="8"/></clipPath><polygon points="444.23,297.94 445.91,294.84 442.54,294.84" fill="#2cab6c" clip-path="url(#c382)"/>
<polygon points="483.77,310.66 485.46,307.56 482.09,307.56" fill="#fff" stroke="#2cab6c" stroke-width="0.85"/><clipPath id="c383"><rect x="483.77" y="304.72" width="4" height="8"/></clipPath><polygon points="483.77,310.66 485.46,307.56 482.09,307.56" fill="#2cab6c" clip-path="url(#c383)"/>
<polygon points="523.33,319.55 525.01,316.45 521.64,316.45" fill="#fff" stroke="#2cab6c" stroke-width="0.85"/><clipPath id="c384"><rect x="523.33" y="313.62" width="4" height="8"/></clipPath><polygon points="523.33,319.55 525.01,316.45 521.64,316.45" fill="#2cab6c" clip-path="url(#c384)"/>
<polyline points="325.57,243.73 365.12,265.19 404.68,284.04 444.23,300.6 483.77,312.56 523.33,322.22" fill="none" stroke="#c47ef2" stroke-width="0.8" stroke-dasharray="4.1 2 1.2 2"/>
<polygon points="325.57,241.63 327.67,243.73 325.57,245.82 323.48,243.73" fill="#fff" stroke="#c47ef2" stroke-width="0.85"/><clipPath id="c386"><rect x="325.57" y="239.73" width="4" height="8"/></clipPath><polygon points="325.57,241.63 327.67,243.73 325.57,245.82 323.48,243.73" fill="#c47ef2" clip-path="url(#c386)"/>
<polygon points="365.12,263.1 367.22,265.19 365.12,267.28 363.03,265.19" fill="#fff" stroke="#c47ef2" stroke-width="0.85"/><clipPath id="c387"><rect x="365.12" y="261.19" width="4" height="8"/></clipPath><polygon points="365.12,263.1 367.22,265.19 365.12,267.28 363.03,265.19" fill="#c47ef2" clip-path="url(#c387)"/>
<polygon points="404.68,281.95 406.77,284.04 404.68,286.14 402.58,284.04" fill="#fff" stroke="#c47ef2" stroke-width="0.85"/><clipPath id="c388"><rect x="404.68" y="280.04" width="4" height="8"/></clipPath><polygon points="404.68,281.95 406.77,284.04 404.68,286.14 402.58,284.04" fill="#c47ef2" clip-path="url(#c388)"/>
<polygon points="444.23,298.51 446.32,300.6 444.23,302.69 442.13,300.6" fill="#fff" stroke="#c47ef2" stroke-width="0.85"/><clipPath id="c389"><rect x="444.23" y="296.6" width="4" height="8"/></clipPath><polygon points="444.23,298.51 446.32,300.6 444.23,302.69 442.13,300.6" fill="#c47ef2" clip-path="url(#c389)"/>
<polygon points="483.77,310.46 485.87,312.56 483.77,314.65 481.68,312.56" fill="#fff" stroke="#c47ef2" stroke-width="0.85"/><clipPath id="c390"><rect x="483.77" y="308.56" width="4" height="8"/></clipPath><polygon points="483.77,310.46 485.87,312.56 483.77,314.65 481.68,312.56" fill="#c47ef2" clip-path="url(#c390)"/>
<polygon points="523.33,320.12 525.42,322.22 523.33,324.31 521.23,322.22" fill="#fff" stroke="#c47ef2" stroke-width="0.85"/><clipPath id="c391"><rect x="523.33" y="318.22" width="4" height="8"/></clipPath><polygon points="523.33,320.12 525.42,322.22 523.33,324.31 521.23,322.22" fill="#c47ef2" clip-path="url(#c391)"/>
<polyline points="325.57,236.37 365.12,257.68 404.68,276.69 444.23,292.17 483.77,305.2 523.33,314.09" fill="none" stroke="#dfa322" stroke-width="0.8" stroke-dasharray="4.1 2 1.2 2"/>
<polygon points="323.64,236.37 326.74,234.68 326.74,238.05" fill="#fff" stroke="#dfa322" stroke-width="0.85"/><clipPath id="c393"><rect x="325.57" y="232.37" width="4" height="8"/></clipPath><polygon points="323.64,236.37 326.74,234.68 326.74,238.05" fill="#dfa322" clip-path="url(#c393)"/>
<polygon points="363.19,257.68 366.29,255.99 366.29,259.36" fill="#fff" stroke="#dfa322" stroke-width="0.85"/><clipPath id="c394"><rect x="365.12" y="253.68" width="4" height="8"/></clipPath><polygon points="363.19,257.68 366.29,255.99 366.29,259.36" fill="#dfa322" clip-path="url(#c394)"/>
<polygon points="402.74,276.69 405.84,275 405.84,278.37" fill="#fff" stroke="#dfa322" stroke-width="0.85"/><clipPath id="c395"><rect x="404.68" y="272.69" width="4" height="8"/></clipPath><polygon points="402.74,276.69 405.84,275 405.84,278.37" fill="#dfa322" clip-path="url(#c395)"/>
<polygon points="442.29,292.17 445.39,290.48 445.39,293.85" fill="#fff" stroke="#dfa322" stroke-width="0.85"/><clipPath id="c396"><rect x="444.23" y="288.17" width="4" height="8"/></clipPath><polygon points="442.29,292.17 445.39,290.48 445.39,293.85" fill="#dfa322" clip-path="url(#c396)"/>
<polygon points="481.84,305.2 484.94,303.51 484.94,306.88" fill="#fff" stroke="#dfa322" stroke-width="0.85"/><clipPath id="c397"><rect x="483.77" y="301.2" width="4" height="8"/></clipPath><polygon points="481.84,305.2 484.94,303.51 484.94,306.88" fill="#dfa322" clip-path="url(#c397)"/>
<polygon points="521.39,314.09 524.49,312.4 524.49,315.78" fill="#fff" stroke="#dfa322" stroke-width="0.85"/><clipPath id="c398"><rect x="523.33" y="310.09" width="4" height="8"/></clipPath><polygon points="521.39,314.09 524.49,312.4 524.49,315.78" fill="#dfa322" clip-path="url(#c398)"/>
<rect x="305.8" y="207.7" width="237.3" height="153.3" fill="none" stroke="#404040" stroke-width="1"/>
<path d="M305.8 361v2.8M315.69 361v1.4M325.57 361v2.8M335.46 361v1.4M345.35 361v2.8M355.24 361v1.4M365.12 361v2.8M375.01 361v1.4M384.9 361v2.8M394.79 361v1.4M404.68 361v2.8M414.56 361v1.4M424.45 361v2.8M434.34 361v1.4M444.23 361v2.8M454.11 361v1.4M464 361v2.8M473.89 361v1.4M483.77 361v2.8M493.66 361v1.4M503.55 361v2.8M513.44 361v1.4M523.33 361v2.8M533.21 361v1.4M543.1 361v2.8M305.8 361h-2.8M305.8 353.33h-1.4M305.8 345.67h-2.8M305.8 338h-1.4M305.8 330.34h-2.8M305.8 322.68h-1.4M305.8 315.01h-2.8M305.8 307.34h-1.4M305.8 299.68h-2.8M305.8 292.01h-1.4M305.8 284.35h-2.8M305.8 276.69h-1.4M305.8 269.02h-2.8M305.8 261.36h-1.4M305.8 253.69h-2.8M305.8 246.02h-1.4M305.8 238.36h-2.8M305.8 230.69h-1.4M305.8 223.03h-2.8M305.8 215.36h-1.4M305.8 207.7h-2.8" stroke="#404040" stroke-width="0.9" fill="none"/>
<g class="tk"><text x="305.8" y="371.4" text-anchor="middle">5</text><text x="325.57" y="371.4" text-anchor="middle">10</text><text x="345.35" y="371.4" text-anchor="middle">15</text><text x="365.12" y="371.4" text-anchor="middle">20</text><text x="384.9" y="371.4" text-anchor="middle">25</text><text x="404.68" y="371.4" text-anchor="middle">30</text><text x="424.45" y="371.4" text-anchor="middle">35</text><text x="444.23" y="371.4" text-anchor="middle">40</text><text x="464" y="371.4" text-anchor="middle">45</text><text x="483.77" y="371.4" text-anchor="middle">50</text><text x="503.55" y="371.4" text-anchor="middle">55</text><text x="523.33" y="371.4" text-anchor="middle">60</text><text x="543.1" y="371.4" text-anchor="middle">65</text><text x="301.6" y="363.4" text-anchor="end">0</text><text x="301.6" y="348.07" text-anchor="end">10</text><text x="301.6" y="332.74" text-anchor="end">20</text><text x="301.6" y="317.41" text-anchor="end">30</text><text x="301.6" y="302.08" text-anchor="end">40</text><text x="301.6" y="286.75" text-anchor="end">50</text><text x="301.6" y="271.42" text-anchor="end">60</text><text x="301.6" y="256.09" text-anchor="end">70</text><text x="301.6" y="240.76" text-anchor="end">80</text><text x="301.6" y="225.43" text-anchor="end">90</text><text x="301.6" y="210.1" text-anchor="end">100</text></g>
<text class="at" x="424.45" y="385.3" text-anchor="middle">Closure pressure/MPa</text>
<text class="at" transform="translate(287.6 284.35) rotate(-90)" text-anchor="middle">Conductivity/(μm<tspan dy="-3" font-size="5">2</tspan><tspan dy="3">·cm)</tspan></text>
<text class="cp" x="424.45" y="397.6" text-anchor="middle">(d) Experiment 3</text>
<path d="M490.8 216.5h18.5" stroke="#464646" stroke-width="0.8"/>
<rect x="498.45" y="214.9" width="3.2" height="3.2" fill="#464646"/>
<text class="lg" x="511.7" y="219.2">1:1:1</text>
<path d="M490.8 226.5h3.2m1.6 0h1m8.2 0h3.3" stroke="#464646" stroke-width="0.8"/>
<polygon points="498.5,224.95 501.6,224.95 501.6,228.05 498.5,228.05" fill="#fff" stroke="#464646" stroke-width="0.85"/><clipPath id="c409"><rect x="500.05" y="222.5" width="4" height="8"/></clipPath><polygon points="498.5,224.95 501.6,224.95 501.6,228.05 498.5,228.05" fill="#464646" clip-path="url(#c409)"/>
<text class="lg" x="511.7" y="229.2">1:3:5</text>
<path d="M490.8 236.5h3.2m1.6 0h1m8.2 0h3.3" stroke="#ff4545" stroke-width="0.8"/>
<circle cx="500.05" cy="236.5" r="1.87" fill="#fff" stroke="#ff4545" stroke-width="0.65"/><path d="M500.05 234.63A1.87 1.87 0 0 1 500.05 238.37Z" fill="#ff4545"/>
<text class="lg" x="511.7" y="239.2">1:5:3</text>
<path d="M490.8 246.5h3.2m1.6 0h1m8.2 0h3.3" stroke="#3575e6" stroke-width="0.8"/>
<polygon points="500.05,244.56 501.74,247.66 498.36,247.66" fill="#fff" stroke="#3575e6" stroke-width="0.85"/><clipPath id="c415"><rect x="500.05" y="242.5" width="4" height="8"/></clipPath><polygon points="500.05,244.56 501.74,247.66 498.36,247.66" fill="#3575e6" clip-path="url(#c415)"/>
<text class="lg" x="511.7" y="249.2">3:1:5</text>
<path d="M490.8 256.5h3.2m1.6 0h1m8.2 0h3.3" stroke="#2cab6c" stroke-width="0.8"/>
<polygon points="500.05,258.44 501.74,255.34 498.36,255.34" fill="#fff" stroke="#2cab6c" stroke-width="0.85"/><clipPath id="c418"><rect x="500.05" y="252.5" width="4" height="8"/></clipPath><polygon points="500.05,258.44 501.74,255.34 498.36,255.34" fill="#2cab6c" clip-path="url(#c418)"/>
<text class="lg" x="511.7" y="259.2">5:1:3</text>
<path d="M490.8 266.5h3.2m1.6 0h1m8.2 0h3.3" stroke="#c47ef2" stroke-width="0.8"/>
<polygon points="500.05,264.41 502.14,266.5 500.05,268.59 497.96,266.5" fill="#fff" stroke="#c47ef2" stroke-width="0.85"/><clipPath id="c421"><rect x="500.05" y="262.5" width="4" height="8"/></clipPath><polygon points="500.05,264.41 502.14,266.5 500.05,268.59 497.96,266.5" fill="#c47ef2" clip-path="url(#c421)"/>
<text class="lg" x="511.7" y="269.2">3:5:1</text>
<path d="M490.8 276.5h3.2m1.6 0h1m8.2 0h3.3" stroke="#dfa322" stroke-width="0.8"/>
<polygon points="498.11,276.5 501.21,274.81 501.21,278.19" fill="#fff" stroke="#dfa322" stroke-width="0.85"/><clipPath id="c424"><rect x="500.05" y="272.5" width="4" height="8"/></clipPath><polygon points="498.11,276.5 501.21,274.81 501.21,278.19" fill="#dfa322" clip-path="url(#c424)"/>
<text class="lg" x="511.7" y="279.2">5:3:1</text>
</svg></body></html>
